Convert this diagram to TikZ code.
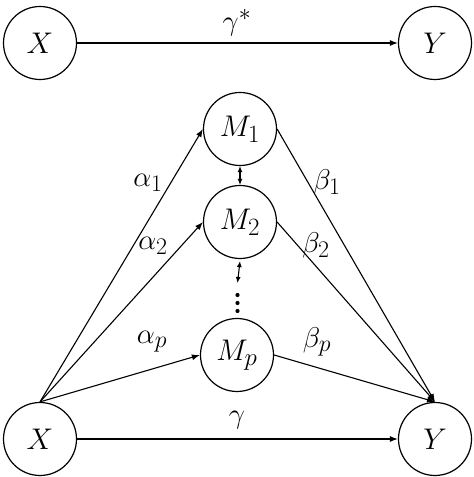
\documentclass[tikz,border=0pt]{standalone}
\usetikzlibrary{arrows.meta}
\newcommand{\bigtx}[1]{\scalebox{1.2}{#1}}
\newcommand{\lbtx}[1]{\scalebox{1.15}{#1}}
\begin{document}
\begin{tikzpicture}[x=1pt,y=1pt,
  var/.style={circle,draw,line width=1.2pt,minimum size=73pt,inner sep=0pt,font=\Huge},
  lbl/.style={font=\Huge,inner sep=0pt},
  arr/.style={line width=1.1pt,-{Latex[length=8pt,width=6pt]}},
  darr/.style={line width=1.1pt,{Latex[length=6pt,width=5pt]}-{Latex[length=6pt,width=5pt]}}]
\useasboundingbox (0,0) rectangle (474,477);
% top
\node[var] (X1) at (40,434) {\bigtx{$X$}};
\node[var] (Y1) at (435,434) {\bigtx{$Y$}};
\draw[arr] (X1) -- (Y1);
\node[lbl] (g1) at (237,454) {\lbtx{$\gamma^*$}};
% bottom
\node[var] (X2) at (40,38) {\bigtx{$X$}};
\node[var] (Y2) at (435,38) {\bigtx{$Y$}};
\node[var] (M1) at (240,348) {\bigtx{$M_1$}};
\node[var] (M2) at (240,255) {\bigtx{$M_2$}};
\node[var] (Mp) at (237,122) {\bigtx{$M_p$}};
\draw[arr] (X2) -- (Y2);
\node[lbl] (g2) at (237,57) {\lbtx{$\gamma$}};
\draw[arr] (X2.north) -- (M1.west);
\draw[arr] (X2.north) -- (M2.west);
\draw[arr] (X2.north) -- (Mp.west);
\draw[arr] (M1.east) -- (Y2.north);
\draw[arr] (M2.east) -- (Y2.north);
\draw[arr] (Mp.east) -- (Y2.north);
\draw[darr] (M1.south) -- (M2.north);
\coordinate (d0) at (237.5,194);
\draw[darr] ([yshift=-2pt]M2.south) -- (d0);
\fill (237.5,182) circle (2.1pt) (237.5,174) circle (2.1pt) (237.5,166) circle (2.1pt);
\node[lbl] (a1) at (148,294) {\lbtx{$\alpha_1$}};
\node[lbl] (a2) at (153,231) {\lbtx{$\alpha_2$}};
\node[lbl] (ap) at (152,135) {\lbtx{$\alpha_p$}};
\node[lbl] (b1) at (327,295) {\lbtx{$\beta_1$}};
\node[lbl] (b2) at (316,232) {\lbtx{$\beta_2$}};
\node[lbl] (bp) at (317,135) {\lbtx{$\beta_p$}};
\end{tikzpicture}
\end{document}
